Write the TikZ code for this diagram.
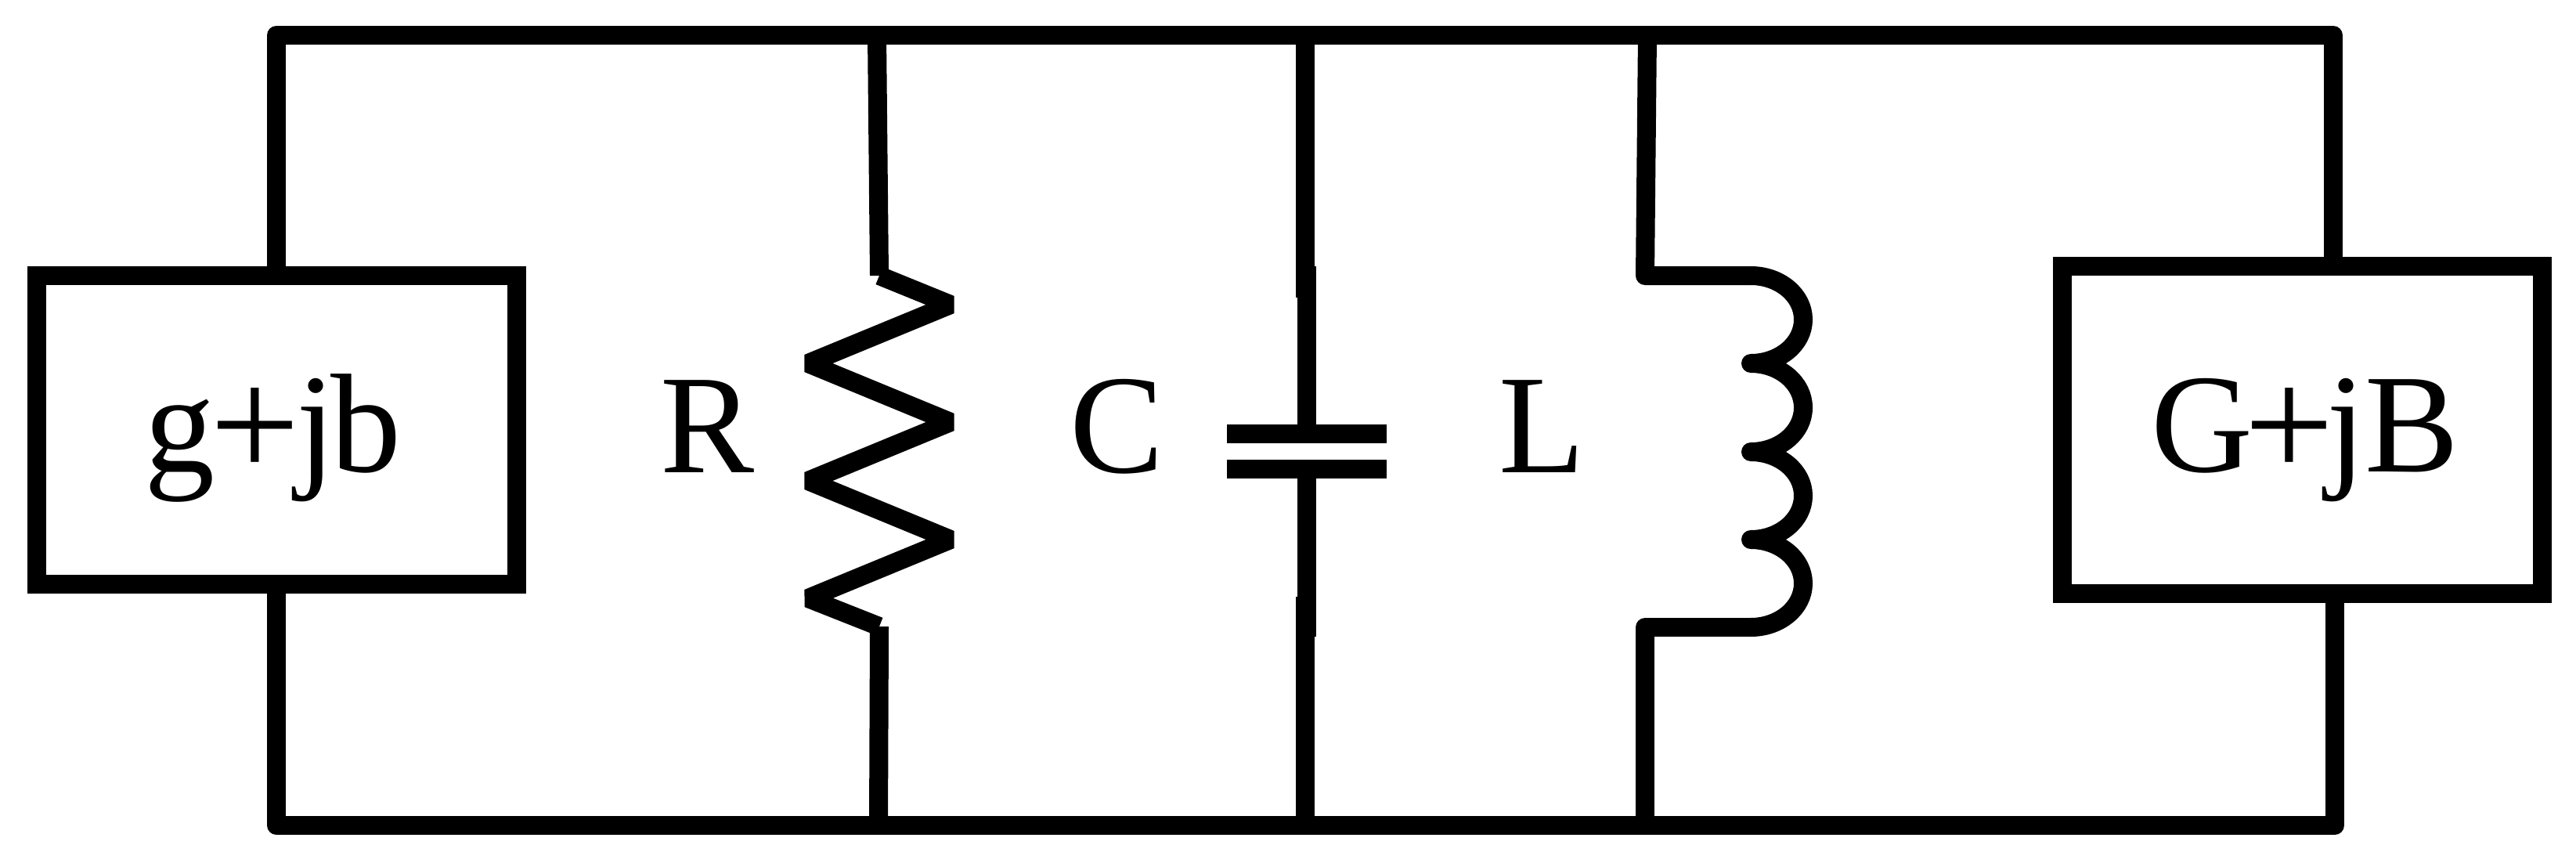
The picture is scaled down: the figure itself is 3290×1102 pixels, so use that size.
\documentclass[tikz,border=0pt]{standalone}
\usepackage{fontspec}
\setmainfont{Liberation Serif}
\newcommand{\bigplus}{\raisebox{-8.5pt}{\scalebox{1.13}{+}}}
\tikzset{
  wire/.style={line width=24pt,line join=round,line cap=butt},
  zigzag/.style={line width=24pt,line join=bevel,line cap=butt},
  coil/.style={line width=24pt,line join=round,line cap=round},
  block/.style={draw,line width=24pt,rectangle,outer sep=0pt,inner sep=0pt,minimum width=613pt},
  plate/.style={line width=24pt,line cap=butt},
  lab/.style={inner sep=0pt,outer sep=0pt,anchor=base west,font=\fontsize{180}{200}\selectfont}
}
\begin{document}
\begin{tikzpicture}[x=1pt,y=-1pt]
\useasboundingbox (0,0) rectangle (3290,1102);
% source and load blocks
\node[block,minimum height=394pt] (src) at (353.5,549) {};
\node[block,minimum height=418pt] (load) at (2940.5,549) {};
% frame corners and taps
\coordinate (TL) at (353,45);
\coordinate (TR) at (2980,45);
\coordinate (BL) at (353,1054);
\coordinate (BR) at (2982,1054);
\coordinate (Rtop) at (1120,45);
\coordinate (Ra) at (1123,352);
\coordinate (Rb) at (1123,800);
\coordinate (Rbot) at (1122,1054);
\coordinate (Ctop) at (1667,45);
\coordinate (Cm1) at (1667,380);
\coordinate (Cm1b) at (1669,340);
\coordinate (Cu) at (1669,554);
\coordinate (Cl) at (1669,599);
\coordinate (Cm2) at (1669,813);
\coordinate (Cm2b) at (1667,762);
\coordinate (Cbot) at (1667,1054);
\coordinate (Ltop) at (2104,45);
\coordinate (La) at (2101,352);
\coordinate (Lb) at (2101,801);
\coordinate (Lbot) at (2101,1054);
% frame
\draw[wire] (src.north -| TL) -- (TL) -- (TR) -- (TR |- load.north);
\draw[wire] (src.south -| BL) -- (BL) -- (BR) -- (BR |- load.south);
% resistor
\draw[wire] (Rtop) -- (Ra);
\draw[wire] (Rb) -- (Rbot);
\draw[zigzag] (Ra) -- (1214,389) -- (1032,464) -- (1214,539) -- (1032,614) -- (1214,689) -- (1032,764) -- (Rb);
% capacitor
\draw[wire] (Ctop) -- (Cm1);
\draw[wire] (Cm1b) -- (Cu);
\draw[wire] (Cl) -- (Cm2);
\draw[wire] (Cm2b) -- (Cbot);
\draw[plate] (1567,554) -- (Cu) -- (1771,554);
\draw[plate] (1567,599) -- (Cl) -- (1771,599);
% inductor
\draw[wire] (Ltop) -- (La) -- (2236,352);
\draw[wire] (Lbot) -- (Lb) -- (2236,801);
\draw[coil] (2236,352)
  .. controls (2273,352) and (2303,377) .. (2303,408)
  .. controls (2303,439) and (2273,464) .. (2236,464)
  .. controls (2273,464) and (2303,489) .. (2303,520.5)
  .. controls (2303,552) and (2273,577) .. (2236,577)
  .. controls (2273,577) and (2303,602) .. (2303,633)
  .. controls (2303,664) and (2273,689) .. (2236,689)
  .. controls (2273,689) and (2303,714) .. (2303,745)
  .. controls (2303,776) and (2273,801) .. (2236,801);
% labels
\node[lab] (tg) at (184,602) {g\kern-6pt\bigplus\kern-4.5pt j\kern-6pt b};
\node[lab] (tR) at (843,603) {R};
\node[lab] (tC) at (1366,603) {C};
\node[lab] (tL) at (1914,603) {L};
\node[lab] (tG) at (2747,602) {G\kern-11pt\bigplus\kern-9.5pt j\kern-1pt B};
\end{tikzpicture}
\end{document}
